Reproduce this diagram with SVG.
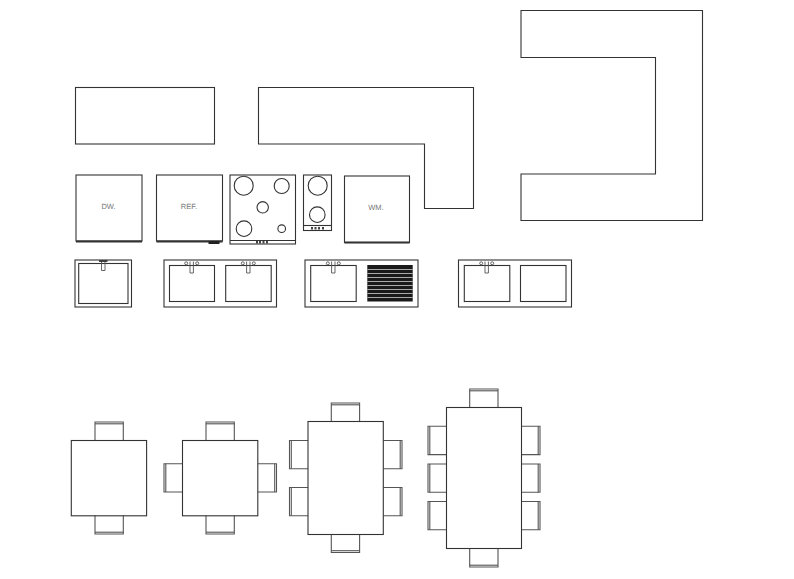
<svg xmlns="http://www.w3.org/2000/svg" width="794" height="579" viewBox="0 0 794 579">
<style>
.l{fill:none;stroke:#333;stroke-width:1.1}
.g{fill:none;stroke:#555;stroke-width:1.1}
.f{fill:none;stroke:#555;stroke-width:0.9}
.t{fill:#777;font-family:"Liberation Sans",Arial,sans-serif;font-size:7.5px;text-anchor:middle;text-rendering:geometricPrecision}
.b{stroke:#333;stroke-width:1.8;fill:none}
.k{fill:#222}
</style>
<defs>
<g id="faucet"><path class="f" d="M-1.700 0V11.500H1.700V0"/><circle class="f" cx="-5.500" cy="1.800" r="1.500"/><circle class="f" cx="5.500" cy="1.800" r="1.500"/></g>
<g id="chairT"><path class="g" d="M0 18.500V0H28.300V18.500"/><path class="g" d="M0 1.800H28.300"/></g>
<g id="chairL"><path class="g" d="M18.500 0H0V28.300H18.500"/><path class="g" d="M1.800 0V28.300"/></g>
</defs>
<rect id="counter-straight" class="l" x="75.500" y="87.500" width="139" height="56.500"/>
<path id="counter-l" class="l" d="M258.500 87.500H473.500V208.500H424.500V144H258.500Z"/>
<path id="counter-u" class="l" d="M521 10.500H702.500V220.500H521V174H655.500V57.500H521Z"/>
<g id="dishwasher"><rect class="l" x="76" y="175" width="66" height="66"/><path class="b" d="M76 241.500H142"/><text class="t" x="108.500" y="209">DW.</text></g>
<g id="refrigerator"><rect class="l" x="156.500" y="175" width="66" height="66"/><path class="b" d="M156.500 241.500H222.500"/><rect class="k" x="208.500" y="241" width="11" height="3"/><text class="t" x="189" y="209">REF.</text></g>
<g id="hob-large"><rect class="l" x="230" y="175" width="65.500" height="69"/><path class="l" d="M230 240.500H295.500"/><circle class="l" cx="243.700" cy="185.700" r="9.500"/><circle class="l" cx="281.700" cy="186" r="7.500"/><circle class="l" cx="262.700" cy="207.300" r="5.700"/><circle class="l" cx="244" cy="228.700" r="7.800"/><circle class="l" cx="281.700" cy="228.700" r="3.800"/><path d="M257 241V243.500M260 241V243.500M263.500 241V243.500M267 241V243.500" stroke="#444" stroke-width="2"/></g>
<g id="hob-small"><rect class="l" x="303.500" y="175" width="28" height="55.500"/><path class="l" d="M303.500 225.500H331.500"/><circle class="l" cx="317.700" cy="185.700" r="9.500"/><circle class="l" cx="317.300" cy="214.700" r="7.800"/><path d="M312 227V229.500M315.500 227V229.500M319 227V229.500M323 227V229.500" stroke="#444" stroke-width="2"/></g>
<g id="washing-machine"><rect class="l" x="344.500" y="176" width="65" height="66.500"/><path class="b" d="M344.500 242.500H409.500"/><text class="t" x="376" y="210">WM.</text></g>
<g id="sink-single"><rect class="l" x="75" y="260" width="56.500" height="47"/><rect class="l" x="78.700" y="263.500" width="49.300" height="40"/><path class="f" d="M101.500 261V270.500H105V261"/><path class="b" d="M99 261H107.500"/></g>
<g id="sink-double"><rect class="l" x="164" y="260" width="112.500" height="47"/><rect class="l" x="169.500" y="265.500" width="45" height="36"/><rect class="l" x="225.700" y="265.500" width="45.500" height="36"/><use href="#faucet" x="191.700" y="261.500"/><use href="#faucet" x="248.300" y="261.500"/></g>
<g id="sink-drainer"><rect class="l" x="305" y="260" width="113" height="47"/><rect class="l" x="310.700" y="265.500" width="45.500" height="36"/><use href="#faucet" x="333.300" y="261.500"/><rect x="367.300" y="265" width="45.400" height="36.500" fill="#1a1a1a"/><path stroke="#aaa" stroke-width="1.100" d="M367.300 269.500H412.700M367.300 273.500H412.700M367.300 277.500H412.700M367.300 281.500H412.700M367.300 285.500H412.700M367.300 289.500H412.700M367.300 293.500H412.700M367.300 297.500H412.700"/></g>
<g id="sink-two-bowl"><rect class="l" x="458.500" y="260" width="113" height="47"/><rect class="l" x="464.300" y="265.500" width="45.500" height="36"/><rect class="l" x="520.500" y="265.500" width="45.500" height="36"/><use href="#faucet" x="486.700" y="261.500"/></g>
<g id="table-2">
<use href="#chairT" x="95" y="422"/><use href="#chairT" transform="translate(95 534) scale(1 -1)"/>
<rect class="l" x="71.300" y="440.500" width="75.300" height="75.300"/></g>
<g id="table-4">
<use href="#chairT" x="206" y="422"/><use href="#chairT" transform="translate(206 534) scale(1 -1)"/>
<use href="#chairL" x="164" y="463.700"/><use href="#chairL" transform="translate(276.500 463.700) scale(-1 1)"/>
<rect class="l" x="182.500" y="440.500" width="75.300" height="75.300"/></g>
<g id="table-6">
<use href="#chairT" x="331.300" y="403"/><use href="#chairT" transform="translate(331.300 552.500) scale(1 -1)"/>
<use href="#chairL" x="289.500" y="440.500"/><use href="#chairL" x="289.500" y="487.500"/>
<use href="#chairL" transform="translate(402 440.500) scale(-1 1)"/><use href="#chairL" transform="translate(402 487.500) scale(-1 1)"/>
<rect class="l" x="308" y="421.500" width="75.300" height="113"/></g>
<g id="table-8">
<use href="#chairT" x="469.700" y="389"/><use href="#chairT" transform="translate(469.700 567) scale(1 -1)"/>
<use href="#chairL" x="428" y="426.300"/><use href="#chairL" x="428" y="464"/><use href="#chairL" x="428" y="501.500"/>
<use href="#chairL" transform="translate(540 426.300) scale(-1 1)"/><use href="#chairL" transform="translate(540 464) scale(-1 1)"/><use href="#chairL" transform="translate(540 501.500) scale(-1 1)"/>
<rect class="l" x="446.500" y="407.500" width="75" height="141"/></g>
</svg>
